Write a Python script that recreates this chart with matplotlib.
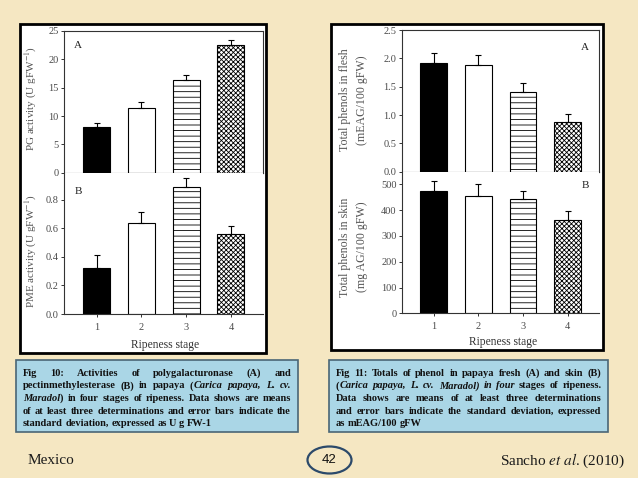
import matplotlib
matplotlib.use('Agg')
import matplotlib.pyplot as plt
import numpy as np
from matplotlib.patches import Rectangle, Ellipse

W, H = 638, 478
plt.rcParams['font.family'] = ['Liberation Serif', 'DejaVu Serif']
plt.rcParams['mathtext.fontset'] = 'stix'
plt.rcParams['hatch.linewidth'] = 0.6

# data
stages = [1, 2, 3, 4]
pg_activity = [8.1, 11.5, 16.3, 22.5]
pg_err = [0.6, 1.0, 0.9, 1.0]
pme_activity = [0.32, 0.64, 0.89, 0.56]
pme_err = [0.09, 0.075, 0.06, 0.06]
phenol_flesh = [1.92, 1.89, 1.41, 0.88]
phenol_flesh_err = [0.18, 0.165, 0.16, 0.13]
phenol_skin = [473, 455, 443, 360]
phenol_skin_err = [39, 45, 30, 35]

bar_colors = ['black', 'white', 'white', 'white']
bar_hatches = [None, None, '---', 'xxxxxxx']

caption_left = ["Fig 10: Activities of polygalacturonase (A) and",
                "pectinmethylesterase (B) in papaya (*Carica papaya, L. cv.*",
                "*Maradol*) in four stages of ripeness. Data shows are means",
                "of at least three determinations and error bars indicate the",
                "standard deviation, expressed as U g FW-1"]
caption_right = ["Fig 11: Totals of phenol in papaya fresh (A) and skin (B)",
                 "(*Carica papaya, L. cv. Maradol) in four* stages of ripeness.",
                 "Data shows are means of at least three determinations",
                 "and error bars indicate the standard deviation, expressed",
                 "as mEAG/100 gFW"]

BG = '#F5E7C2'
TICK = '#4a4a4a'


def rect(x0, y0, x1, y1):
    return [x0 / W, 1 - y1 / H, (x1 - x0) / W, (y1 - y0) / H]


def fx(x):
    return x / W


def fy(y):
    return 1 - y / H


def bars(ax, vals, errs, xlim, ylim, yticks, fmt):
    rects = ax.bar(stages, vals, width=0.6, color=bar_colors,
                   edgecolor='black', linewidth=0.8, zorder=2)
    for r, h in zip(rects, bar_hatches):
        if h:
            r.set_hatch(h)
    ax.errorbar(stages, vals, yerr=[np.zeros(len(vals)), errs], fmt='none',
                ecolor='black', elinewidth=0.8, capsize=2, capthick=0.8, zorder=3)
    ax.set_xlim(*xlim)
    ax.set_ylim(*ylim)
    ax.set_yticks(yticks)
    ax.set_yticklabels([fmt % v for v in yticks])
    ax.tick_params(direction='out', length=2.5, width=0.7, labelsize=7.5,
                   pad=1.5, labelcolor=TICK, color='#333333')
    for s in ax.spines.values():
        s.set_linewidth(0.8)
        s.set_color('#333333')


fig = plt.figure(figsize=(W / 100, H / 100), dpi=100, facecolor=BG)

# white figure frames
for x0, y0, x1, y1 in [(20, 24.3, 265.7, 352.7), (331, 24.3, 602.7, 349.5)]:
    fig.patches.append(Rectangle((fx(x0), fy(y1)), (x1 - x0) / W, (y1 - y0) / H,
                                 transform=fig.transFigure, facecolor='white',
                                 edgecolor='black', linewidth=2, zorder=-1))

# Fig 10
ax = fig.add_axes(rect(64.3, 31, 263.3, 172.7))
bars(ax, pg_activity, pg_err, (0.275, 4.725), (0, 25), [0, 5, 10, 15, 20, 25], '%d')
ax.tick_params(axis='x', bottom=False, labelbottom=False)

ax = fig.add_axes(rect(64.3, 172.7, 263.3, 314))
bars(ax, pme_activity, pme_err, (0.275, 4.725), (0, 0.99), [0, 0.2, 0.4, 0.6, 0.8], '%.1f')
ax.spines['top'].set_visible(False)
ax.spines['right'].set_visible(False)
ax.set_xticks(stages)
ax.tick_params(axis='x', pad=4)

# Fig 11
ax = fig.add_axes(rect(402, 30, 599.3, 171.7))
bars(ax, phenol_flesh, phenol_flesh_err, (0.29, 4.71), (0, 2.5),
     [0, 0.5, 1.0, 1.5, 2.0, 2.5], '%.1f')
ax.tick_params(axis='x', bottom=False, labelbottom=False)

ax = fig.add_axes(rect(402, 171.7, 599.3, 313.3))
bars(ax, phenol_skin, phenol_skin_err, (0.29, 4.71), (0, 549),
     [0, 100, 200, 300, 400, 500], '%d')
ax.spines['top'].set_visible(False)
ax.spines['right'].set_visible(False)
ax.set_xticks(stages)
ax.tick_params(axis='x', pad=4)

# panel letters
for x, y, s, ha in [(78, 45, 'A', 'center'), (78, 191, 'B', 'center'),
                    (589, 47, 'A', 'right'), (589, 185, 'B', 'right')]:
    fig.text(fx(x), fy(y), s, ha=ha, va='center', fontsize=8, color='#222222')

# axis titles
fig.text(fx(31), fy(99), 'PG activity (U gFW$^{-1}$)', rotation=90,
         ha='center', va='center', fontsize=8, color='#555555')
fig.text(fx(31), fy(251), 'PME activity (U gFW$^{-1}$)', rotation=90,
         ha='center', va='center', fontsize=8, color='#555555')
fig.text(fx(353.5), fy(100), 'Total phenols in flesh\n(mEAG/100 gFW)', rotation=90,
         ha='center', va='center', fontsize=8.6, color='#555555',
         linespacing=1.55, multialignment='center')
fig.text(fx(353.5), fy(247), 'Total phenols in skin\n(mg AG/100 gFW)', rotation=90,
         ha='center', va='center', fontsize=8.6, color='#555555',
         linespacing=1.55, multialignment='center')
fig.text(fx(165.5), fy(345), 'Ripeness stage', ha='center', va='center',
         fontsize=8.3, color='#333333')
fig.text(fx(503), fy(342), 'Ripeness stage', ha='center', va='center',
         fontsize=8.3, color='#333333')

# caption boxes
for x0, y0, x1, y1 in [(15.7, 360, 297.7, 432), (329, 360, 608, 432)]:
    fig.patches.append(Rectangle((fx(x0), fy(y1)), (x1 - x0) / W, (y1 - y0) / H,
                                 transform=fig.transFigure, facecolor='#AAD6E6',
                                 edgecolor='#4A6676', linewidth=1.2, zorder=-1))


def parse(line):
    words, italic = [], False
    for w in line.split(' '):
        segs = []
        for i, part in enumerate(w.split('*')):
            if i > 0:
                italic = not italic
            if part:
                segs.append((part, italic))
        words.append(segs)
    return words


renderer = fig.canvas.get_renderer()


def justify(lines, x0, x1, ys, size=7.5):
    for k, (line, y) in enumerate(zip(lines, ys)):
        words = parse(line)
        placed = []
        total = 0
        for segs in words:
            wsegs = []
            for s, it in segs:
                t = fig.text(0, fy(y), s, fontsize=size, fontweight='bold',
                             style='italic' if it else 'normal', color='#111111',
                             ha='left', va='baseline')
                w = t.get_window_extent(renderer).width
                wsegs.append((t, w))
                total += w
            placed.append(wsegs)
        if k < len(lines) - 1:
            gap = (x1 - x0 - total) / (len(words) - 1)
        else:
            gap = size * 100 / 72 * 0.25
        x = x0
        for wsegs in placed:
            for t, w in wsegs:
                t.set_x(fx(x))
                x += w
            x += gap


ys = [375.5, 388.5, 401, 413.5, 426]
justify(caption_left, 22.7, 291, ys)
justify(caption_right, 335.8, 601.5, ys)

# footer
fig.text(fx(28), fy(461), 'Mexico', ha='left', va='center', fontsize=11, color='#1a1a1a')
fig.text(fx(625), fy(461), 'Sancho $\\it{et\\ al}$. (2010)', ha='right', va='center',
         fontsize=11, color='#1a1a1a')
fig.patches.append(Ellipse((fx(329.5), fy(460)), 44 / W, 27 / H, transform=fig.transFigure,
                           facecolor='none', edgecolor='#2C4A6A', linewidth=1.6))
fig.text(fx(329.5), fy(460), '42', ha='center', va='center', fontsize=9.5,
         family='Liberation Sans', color='#111111')

fig.savefig('out.png', dpi=100, facecolor=BG)
